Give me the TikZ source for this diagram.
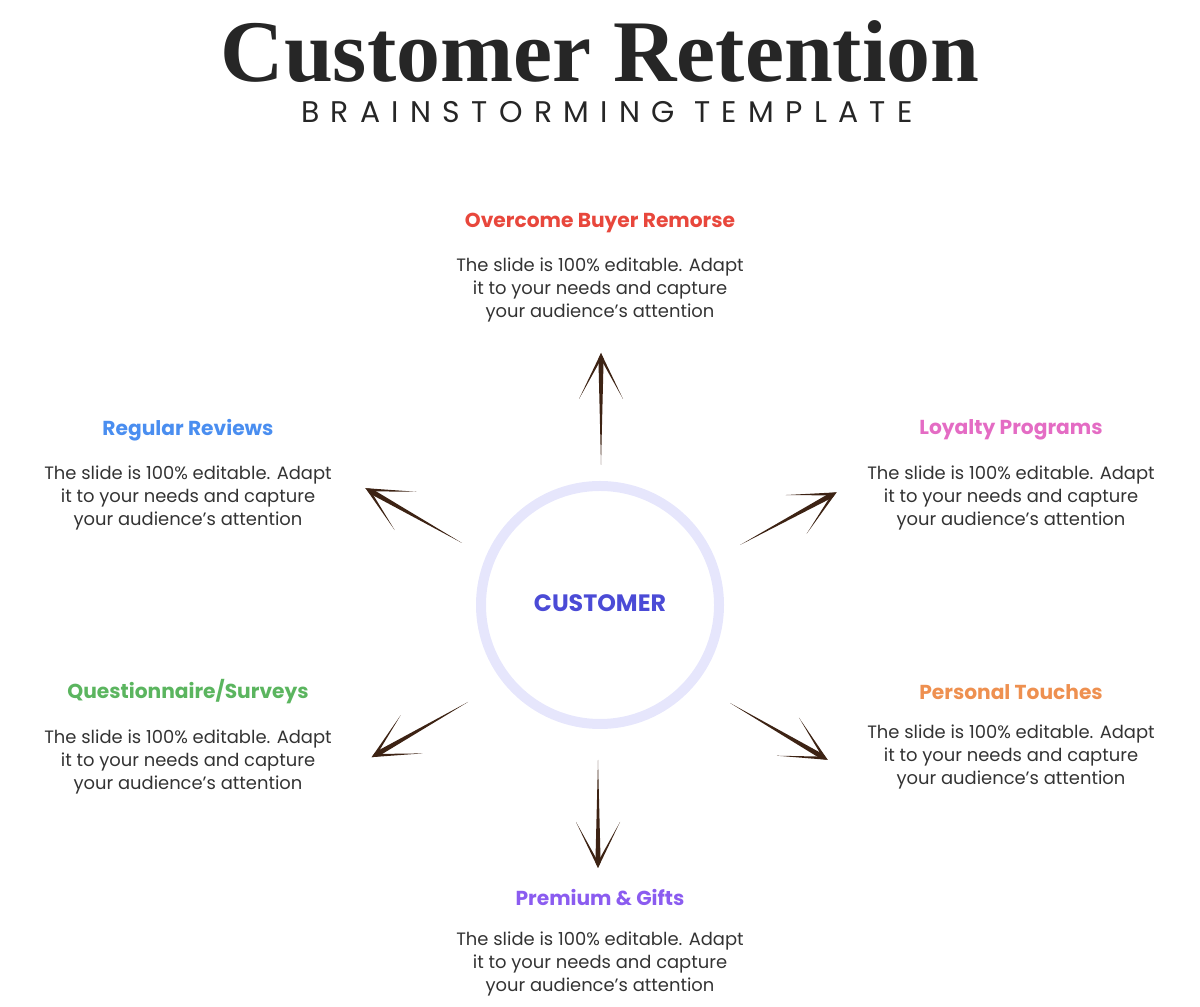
\documentclass[tikz,border=0pt]{standalone}
\usepackage{fontspec}
\setmainfont{Poppins}
\newfontfamily\titlefont{Liberation Serif}
\usetikzlibrary{positioning}
\definecolor{arrowbrown}{HTML}{3D2314}
\definecolor{ringblue}{HTML}{E6E6FC}
\definecolor{custblue}{HTML}{4B4BD6}
\definecolor{headred}{HTML}{E8473C}
\definecolor{headblue}{HTML}{4A8EF0}
\definecolor{headpink}{HTML}{E46CC4}
\definecolor{headgreen}{HTML}{5BB55F}
\definecolor{headorange}{HTML}{EE9050}
\definecolor{headpurple}{HTML}{8B5CF0}
\definecolor{bodygrey}{HTML}{333333}
\begin{document}
\begin{tikzpicture}[x=0.02cm, y=0.02cm]
    \tikzset{head/.style={font=\fontsize{11.5}{14}\selectfont\bfseries, inner sep=0pt},
             body/.style={font=\fontsize{10.2}{13.1}\selectfont, text=bodygrey, align=center, inner sep=0pt, anchor=north}};
    \useasboundingbox (0,0) rectangle (1200,1007);
    % Title
    \node[font=\titlefont\fontsize{50}{56}\selectfont\bfseries, text=black!85] (title) at (600,955) {Customer Retention};
    \node[font=\fontsize{17}{20}\selectfont\addfontfeature{LetterSpace=38}, text=black!85] (subtitle) at (607,895) {BRAINSTORMING TEMPLATE};
    % Centre
    \draw[ringblue, line width=0.2cm] (600,402) circle (119);
    \node[font=\fontsize{13.5}{16}\selectfont\bfseries, text=custblue] (customer) at (600,404) {CUSTOMER};
    % Tapered arrows: tail x, tail y, angle, length
    \foreach \x/\y/\a/\l in {601/542/90/112, 740/462/28.6/110, 462/464/150.4/111,
                             468/305/209.8/111, 730/304/-30.2/113, 598/247/-90/108}{
        \begin{scope}[shift={(\x,\y)}, rotate=\a]
            \fill[arrowbrown] (0,0) -- (\l-6,2.6) -- (\l,0) -- (\l-6,-2.6) -- cycle;
            \fill[arrowbrown] (\l,0) -- (\l-46,22) -- (\l-10,2) -- cycle;
            \fill[arrowbrown] (\l,0) -- (\l-46,-22) -- (\l-10,-2) -- cycle;
        \end{scope}
    }
    % Topics
    \node[head, text=headred] (remorse) at (600,784) {Overcome Buyer Remorse};
    \node[body, below=14pt of remorse] (remorsetext) {The slide is 100\% editable. Adapt\\it to your needs and capture\\your audience's attention};
    \node[head, text=headblue] (reviews) at (188,577) {Regular Reviews};
    \node[body, below=14pt of reviews] (reviewstext) {The slide is 100\% editable. Adapt\\it to your needs and capture\\your audience's attention};
    \node[head, text=headpink] (loyalty) at (1011,577) {Loyalty Programs};
    \node[body, below=14pt of loyalty] (loyaltytext) {The slide is 100\% editable. Adapt\\it to your needs and capture\\your audience's attention};
    \node[head, text=headgreen] (surveys) at (188,315) {Questionnaire/Surveys};
    \node[body, below=14pt of surveys] (surveystext) {The slide is 100\% editable. Adapt\\it to your needs and capture\\your audience's attention};
    \node[head, text=headorange] (touches) at (1011,315) {Personal Touches};
    \node[body, below=14pt of touches] (touchestext) {The slide is 100\% editable. Adapt\\it to your needs and capture\\your audience's attention};
    \node[head, text=headpurple] (gifts) at (600,109) {Premium \& Gifts};
    \node[body, below=14pt of gifts] (giftstext) {The slide is 100\% editable. Adapt\\it to your needs and capture\\your audience's attention};
\end{tikzpicture}
\end{document}
